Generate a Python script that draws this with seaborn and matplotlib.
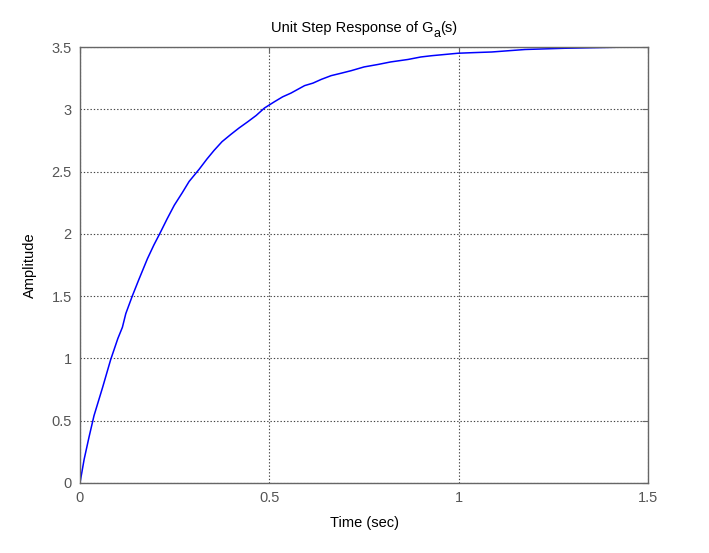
import pandas as pd
import matplotlib
matplotlib.use("Agg")
import matplotlib.pyplot as plt
import seaborn as sns

# Step response samples
time_sec = [0.0, 0.011, 0.024, 0.037, 0.060, 0.081, 0.100, 0.112, 0.121, 0.138,
            0.155, 0.178, 0.195, 0.212, 0.230, 0.249, 0.270, 0.288, 0.315, 0.335,
            0.354, 0.375, 0.399, 0.420, 0.443, 0.465, 0.487, 0.513, 0.535, 0.557,
            0.575, 0.593, 0.615, 0.637, 0.663, 0.690, 0.716, 0.750, 0.787, 0.820,
            0.866, 0.900, 0.928, 0.998, 1.040, 1.087, 1.175, 1.280, 1.448]
amplitude = [0.0, 0.19, 0.37, 0.54, 0.77, 0.99, 1.16, 1.25, 1.36, 1.50,
             1.63, 1.80, 1.91, 2.01, 2.12, 2.23, 2.33, 2.42, 2.52, 2.60,
             2.67, 2.74, 2.80, 2.85, 2.90, 2.95, 3.01, 3.06, 3.10, 3.13,
             3.16, 3.19, 3.21, 3.24, 3.27, 3.29, 3.31, 3.34, 3.36, 3.38,
             3.40, 3.42, 3.43, 3.45, 3.455, 3.46, 3.48, 3.49, 3.50]

x_ticks = [0, 0.5, 1, 1.5]
x_tick_labels = ["0", "0.5", "1", "1.5"]
y_ticks = [0, 0.5, 1, 1.5, 2, 2.5, 3, 3.5]
y_tick_labels = ["0", "0.5", "1", "1.5", "2", "2.5", "3", "3.5"]

title_parts = ["Unit Step Response of G", "a", "(s)"]

df = pd.DataFrame({"Time": time_sec, "Amplitude": amplitude})

sns.set_style("white")
plt.rcParams["font.family"] = ["Liberation Sans", "DejaVu Sans"]

fig = plt.figure(figsize=(7.09, 5.53), dpi=100)
fig.patch.set_facecolor("white")
ax = fig.add_axes([0.1128, 0.1266, 0.8014, 0.7884])

sns.lineplot(data=df, x="Time", y="Amplitude", color="#0000ff", linewidth=1.1,
             ax=ax, estimator=None, sort=False)

ax.set_xlim(0, 1.5)
ax.set_ylim(0, 3.5)
ax.set_xticks(x_ticks)
ax.set_xticklabels(x_tick_labels)
ax.set_yticks(y_ticks)
ax.set_yticklabels(y_tick_labels)

# MATLAB-like dotted grid and boxed axes
ax.grid(True, linestyle=(0, (1.2, 1.8)), color="#444444", linewidth=0.8)
for spine in ax.spines.values():
    spine.set_visible(True)
    spine.set_color("#666666")
    spine.set_linewidth(1.0)
ax.tick_params(direction="in", length=4, width=0.8, color="#666666",
               labelcolor="#555555", labelsize=10.5, top=True, right=True,
               pad=6)

ax.set_xlabel("Time (sec)", fontsize=10.5, color="black", labelpad=8)
ax.set_ylabel("Amplitude", fontsize=10.5, color="black", labelpad=10)

# Title with a MATLAB-style lowered subscript, built from three pieces
renderer = fig.canvas.get_renderer()
sizes = [10.5, 9.0, 10.5]
offsets = [0, -5, 0]  # pixels
pieces = [fig.text(0, 0, s, fontsize=fs, color="black") for s, fs in zip(title_parts, sizes)]
widths = [p.get_window_extent(renderer).width for p in pieces]
total = sum(widths)
x_px = fig.bbox.width * (0.1128 + 0.8014 / 2) - total / 2
base_y = 553 - 32
for p, w, off in zip(pieces, widths, offsets):
    p.set_position((x_px / fig.bbox.width, (base_y + off) / fig.bbox.height))
    x_px += w

fig.savefig("out.png", dpi=100, facecolor="white")
plt.close(fig)
